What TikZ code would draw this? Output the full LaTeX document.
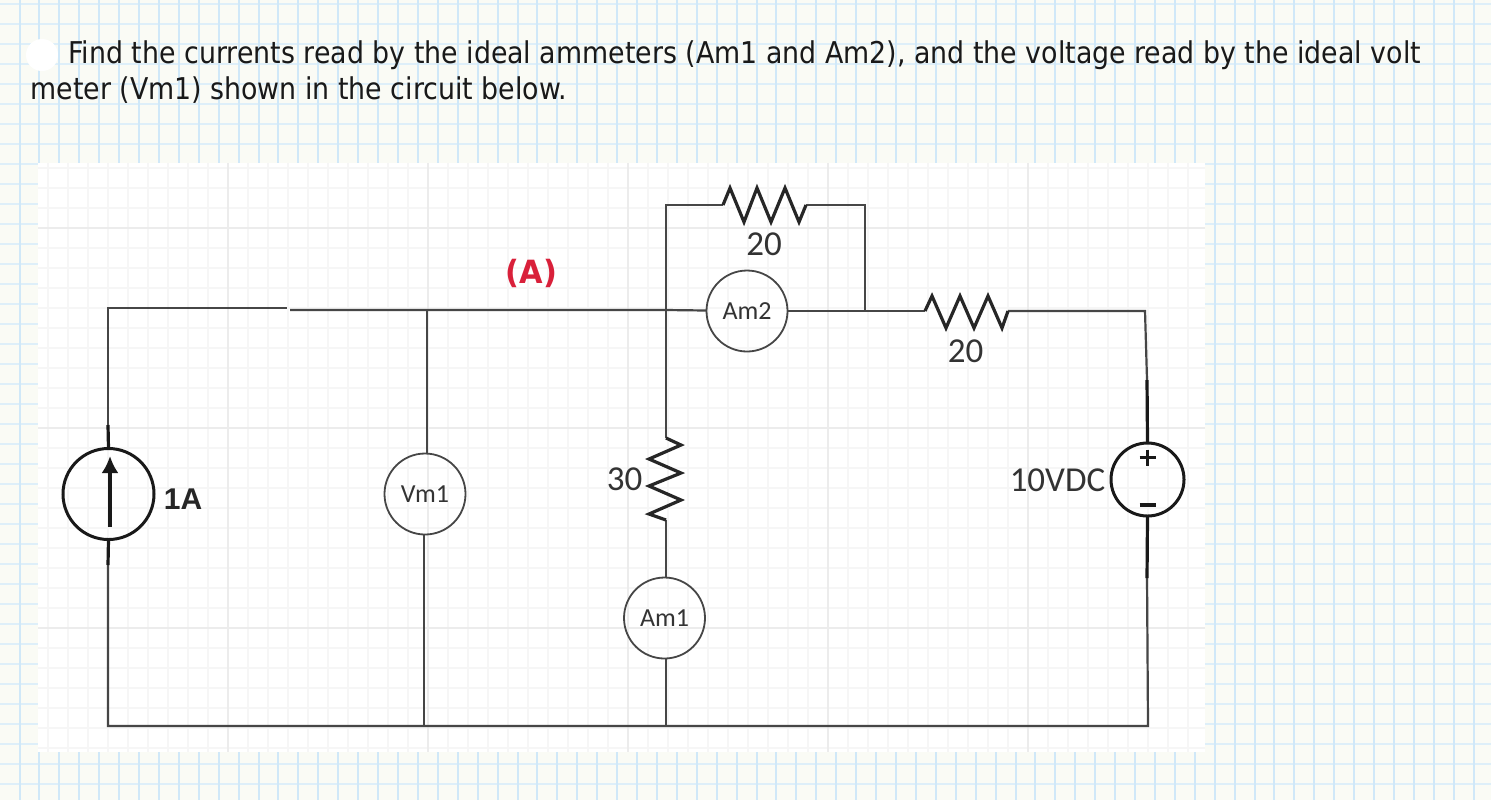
\documentclass[tikz,border=0pt]{standalone}
\usepackage{fontspec}
\setmainfont{DejaVu Sans}[FakeStretch=0.894]
\newfontfamily\labelfont{Carlito}
\newfontfamily\valuefont{Liberation Sans}
\newfontfamily\markfont{DejaVu Sans}[FakeStretch=0.95]
\usetikzlibrary{calc, arrows.meta, positioning}
\definecolor{paper}{RGB}{250,251,245}
\definecolor{gridblue}{RGB}{208,232,248}
\definecolor{gridbluepale}{RGB}{222,239,249}
\definecolor{gridgrey}{RGB}{246,246,246}
\definecolor{gridgreymajor}{RGB}{236,236,236}
\definecolor{wiregrey}{RGB}{70,70,70}
\definecolor{markred}{RGB}{217,32,58}

\begin{document}
\begin{tikzpicture}
    [
        x=0.5pt,y=-0.5pt,>=latex,
        wire/.style={draw=wiregrey, line width=1.1pt},
        stub/.style={draw=black!90, line width=1.6pt},
        zigzag/.style={draw=black!85, line width=1.6pt, line join=miter},
        meter/.style={draw=wiregrey, circle, minimum size=40.5pt, inner sep=0pt, outer sep=0pt, line width=.9pt, text=black!80, font=\labelfont\fontsize{13}{13}\selectfont},
        source/.style={draw=black!90, circle, inner sep=0pt, outer sep=0pt, line width=1.5pt},
        val/.style={inner sep=0pt, text=black!80, font=\labelfont\fontsize{17.5}{17.5}\selectfont}
    ]
    \useasboundingbox (0,0) rectangle (1491,800);

    % Paper
    \fill[paper] (0,0) rectangle (1491,800);
    \foreach \y in {0,...,39}
        \draw[gridbluepale, line width=1pt] (0,3.5+\y*20) -- (1491,3.5+\y*20);
    \foreach \x in {0,...,74}
        \draw[gridblue, line width=1pt] (19.5+\x*19.92,0) -- (19.5+\x*19.92,800);

    % Panel
    \fill[white] (38,163) rectangle (1205,752);
    \foreach \x in {48,68,...,1200}
        \draw[gridgrey, line width=1pt] (\x,163) -- (\x,752);
    \foreach \y in {168,188,...,750}
        \draw[gridgrey, line width=1pt] (38,\y) -- (1205,\y);
    \foreach \x in {228,428,...,1100}
        \draw[gridgreymajor, line width=1pt] (\x,163) -- (\x,752);
    \foreach \y in {228,428,628}
        \draw[gridgreymajor, line width=1pt] (38,\y) -- (1205,\y);

    % Question
    \node[circle, fill=white, minimum size=16pt, inner sep=0pt] (dot) at (42,55) {};
    \node[anchor=base west, inner sep=0pt, text=black!90, font=\fontsize{15}{15}\selectfont] (line_a) at (68,63.5)
        {Find the currents read by the ideal ammeters (Am1 and Am2), and the voltage read by the ideal volt};
    \node[anchor=base west, inner sep=0pt, text=black!90, font=\fontsize{15}{15}\selectfont] (line_b) at (30,99.5)
        {meter (Vm1) shown in the circuit below.};

    % Elements
    \node[source, minimum size=45.5pt] (i_src) at (108.5,494) {};
    \node[source, minimum size=36.5pt] (v_src) at (1147.5,479.5) {};
    \node[meter] (vm1) at (425,494) {Vm1};
    \node[meter] (am1) at (664.5,618) {Am1};
    \node[meter] (am2) at (747,311) {Am2};

    % Corners and joints
    \coordinate (tl) at (108,308);
    \coordinate (tm_a) at (287,308);
    \coordinate (tm_b) at (290,310);
    \coordinate (n_vm) at (427,310);
    \coordinate (n_30) at (666,310);
    \coordinate (n_loop) at (865,311);
    \coordinate (top_l) at (666,205);
    \coordinate (top_r) at (865,205);
    \coordinate (r1_a) at (723,205);
    \coordinate (r1_b) at (806,205);
    \coordinate (r2_a) at (925,311);
    \coordinate (r2_b) at (1008,311);
    \coordinate (tr) at (1145,311);
    \coordinate (r3_a) at (666,438);
    \coordinate (r3_b) at (666,520);
    \coordinate (i_top) at (108,425);
    \coordinate (i_bot) at (108,565);
    \coordinate (v_top) at (1147,380);
    \coordinate (v_bot) at (1147,578);
    \coordinate (bl) at (108,726);
    \coordinate (b_vm) at (424,726);
    \coordinate (b_am) at (666,726);
    \coordinate (br) at (1148,726);

    % Wires
    \draw[wire] (i_top) -- (tl) -- (tm_a);
    \draw[wire] (tm_b) -- (n_vm) -- (n_30) -- (am2);
    \draw[wire] (am2) -- (n_loop) -- (r2_a);
    \draw[wire] (r2_b) -- (tr) -- (v_top);
    \draw[wire] (n_30) -- (r3_a);
    \draw[wire] (n_30) -- (top_l) -- (r1_a);
    \draw[wire] (r1_b) -- (top_r) -- (n_loop);
    \draw[wire] (n_vm) -- (n_vm |- vm1.north);
    \draw[wire] (vm1.south -| b_vm) -- (b_vm);
    \draw[wire] (r3_b) -- (r3_b |- am1.north);
    \draw[wire] (am1.south -| b_am) -- (b_am);
    \draw[wire] (i_bot) -- (bl) -- (b_vm) -- (b_am) -- (br) -- (v_bot);

    % Source stubs
    \draw[stub] (i_top) -- (i_src.north);
    \draw[stub] (i_src.south) -- (i_bot);
    \draw[stub] (v_top) -- (v_src.north);
    \draw[stub] (v_src.south) -- (v_bot);

    % Resistors
    \draw[zigzag] (r1_a) -- ++(7,-17) -- ++(14,34) -- ++(13,-34) -- ++(14,34) -- ++(14,-34) -- ++(14,34) -- (r1_b);
    \draw[zigzag] (r2_a) -- ++(7,-15) -- ++(14,32) -- ++(14,-32) -- ++(14,32) -- ++(14,-32) -- ++(14,32) -- (r2_b);
    \draw[zigzag] (r3_a) -- ++(15,7) -- ++(-32,14) -- ++(32,14) -- ++(-32,13) -- ++(32,14) -- ++(-32,14) -- (r3_b);

    % Source marks
    \coordinate (arrow_tail) at ($(i_src.center)+(1.5,33)$);
    \coordinate (arrow_tip) at ($(i_src.center)+(1.5,-38)$);
    \draw[stub, -{Latex[length=8.5pt,width=8.5pt]}] (arrow_tail) -- (arrow_tip);
    \coordinate (plus_c) at ($(v_src.center)+(0,-22)$);
    \coordinate (minus_c) at ($(v_src.center)+(0,25.5)$);
    \draw[stub] ($(plus_c)+(-8,0)$) -- ($(plus_c)+(8,0)$);
    \draw[stub] ($(plus_c)+(0,-8)$) -- ($(plus_c)+(0,8)$);
    \draw[stub] ($(minus_c)+(-8,0)$) -- ($(minus_c)+(8,0)$);

    % Labels
    \node[val] (r1_val) at (764,244) {20};
    \node[val] (r2_val) at (965.5,351) {20};
    \node[val] (r3_val) at (624.5,479.5) {30};
    \node[val] (v_val) at (1057.5,480) {10VDC};
    \node[inner sep=0pt, text=black!85, font=\valuefont\bfseries\fontsize{15}{15}\selectfont] (i_val) at (183,499) {1A};
    \node[inner sep=0pt, text=markred, font=\markfont\bfseries\fontsize{16}{16}\selectfont] (mark) at (531.5,273.5) {(A)};
\end{tikzpicture}
\end{document}
